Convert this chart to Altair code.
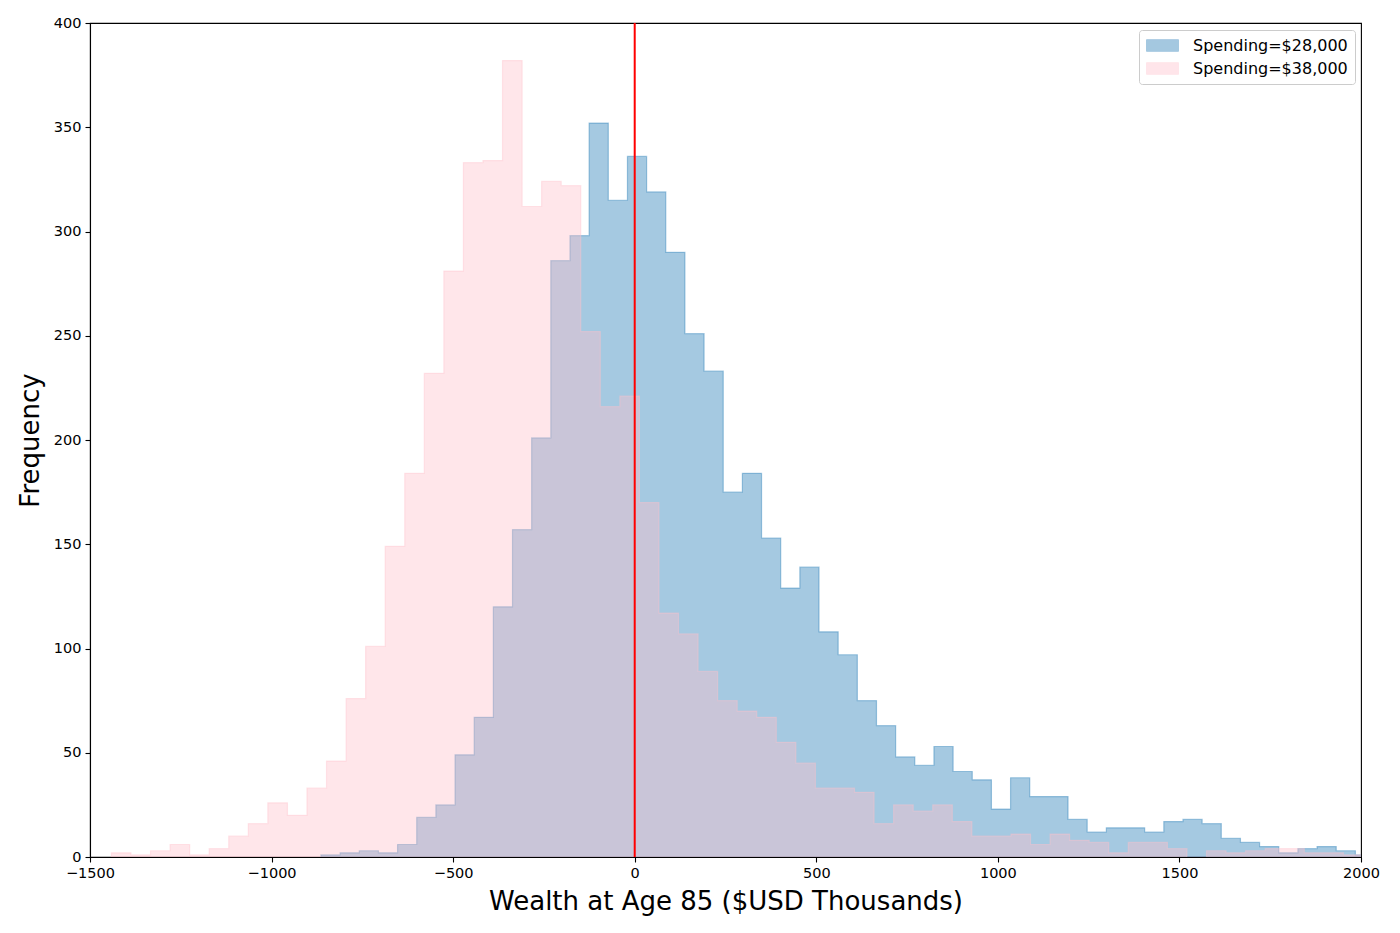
import altair as alt
import pandas as pd

series_names = ["Spending=$28,000", "Spending=$38,000"]
series_colors = ["#1f77b4", "pink"]

# Histogram of Spending=$28,000 (equal-width bins)
blue_first_edge = -864.0
blue_bin_width = 52.75
blue_counts = [1, 2, 3, 2, 6, 19, 25, 49, 67, 120,
               157, 201, 286, 298, 352, 315, 336, 319, 290, 251,
               233, 175, 184, 153, 129, 139, 108, 97, 75, 63,
               48, 44, 53, 41, 37, 23, 38, 29, 29, 18,
               12, 14, 14, 12, 17, 18, 16, 9, 7, 5,
               2, 4, 5, 3, 1]

# Histogram of Spending=$38,000 (equal-width bins)
pink_first_edge = -1441.0
pink_bin_width = 53.85
pink_counts = [2, 1, 3, 6, 1, 4, 10, 16, 26, 20,
               33, 46, 76, 101, 149, 184, 232, 281, 333, 334,
               382, 312, 324, 322, 252, 216, 221, 170, 117, 107,
               89, 75, 70, 67, 55, 45, 33, 33, 31, 16,
               25, 22, 25, 17, 10, 10, 11, 6, 11, 8,
               7, 2, 7, 7, 4, 0, 3, 2, 3, 4,
               4, 2, 2, 1]

x_ticks = [-1500, -1000, -500, 0, 500, 1000, 1500, 2000]
y_ticks = [0, 50, 100, 150, 200, 250, 300, 350, 400]
vline_x = [0]


def step_frame(name, first, width, counts):
    rows = []
    for i, c in enumerate(counts):
        rows.append({"x": first + i * width, "count": c, "series": name})
    rows.append({"x": first + len(counts) * width, "count": 0, "series": name})
    return pd.DataFrame(rows)


blue_df = step_frame(series_names[0], blue_first_edge, blue_bin_width, blue_counts)
pink_df = step_frame(series_names[1], pink_first_edge, pink_bin_width, pink_counts)

FONT = "DejaVu Sans"

xscale = alt.Scale(domain=[-1500, 2000], nice=False, zero=False)
yscale = alt.Scale(domain=[0, 400], nice=False)
cscale = alt.Scale(domain=series_names, range=series_colors)

xaxis = alt.Axis(values=x_ticks, format="d", title="Wealth at Age 85 ($USD Thousands)",
                 grid=False, tickSize=5, labelPadding=4, titlePadding=9,
                 labelFlush=False, labelOverlap=False)
yaxis = alt.Axis(values=y_ticks, format="d", title="Frequency",
                 grid=False, tickSize=5, labelPadding=4, titlePadding=10,
                 labelFlush=False, labelOverlap=False)

legend = alt.Legend(title=None, orient="none", legendX=1049, legendY=7,
                    fillColor="white", strokeColor="#cccccc", cornerRadius=3,
                    padding=7, labelFontSize=16, labelFont=FONT, labelColor="black",
                    symbolType="M-1,-0.725L3,-0.725L3,0.725L-1,0.725Z", symbolSize=256,
                    symbolOpacity=0.4, symbolStrokeWidth=1, labelOffset=30, rowPadding=6)


def area_layer(df, with_legend):
    return alt.Chart(df).mark_area(
        interpolate="step-after", fillOpacity=0.4, strokeOpacity=0.4, strokeWidth=1.2, clip=True
    ).encode(
        x=alt.X("x:Q", scale=xscale, axis=xaxis),
        y=alt.Y("count:Q", scale=yscale, axis=yaxis),
        color=alt.Color("series:N", scale=cscale, legend=legend if with_legend else None),
        stroke=alt.Stroke("series:N", scale=cscale, legend=None),
    )


blue_layer = area_layer(blue_df, True)
pink_layer = area_layer(pink_df, True)

vline = alt.Chart(pd.DataFrame({"x": vline_x})).mark_rule(color="red", strokeWidth=2).encode(
    x=alt.X("x:Q", scale=xscale)
)

chart = alt.layer(blue_layer, pink_layer, vline).properties(
    width=1271, height=834,
    autosize=alt.AutoSizeParams(type="none"),
    padding={"left": 82, "top": 15, "right": 30, "bottom": 70},
).configure(
    background="white"
).configure_view(
    stroke="black", strokeWidth=1.1
).configure_axis(
    labelFont=FONT, titleFont=FONT, labelFontSize=14.5, titleFontSize=26,
    titleFontWeight="normal", labelColor="black", titleColor="black",
    tickColor="black", domainColor="black", domainWidth=1.1, tickWidth=1.1
)

chart.save("out.html", embed_options={"renderer": "svg", "actions": False})
